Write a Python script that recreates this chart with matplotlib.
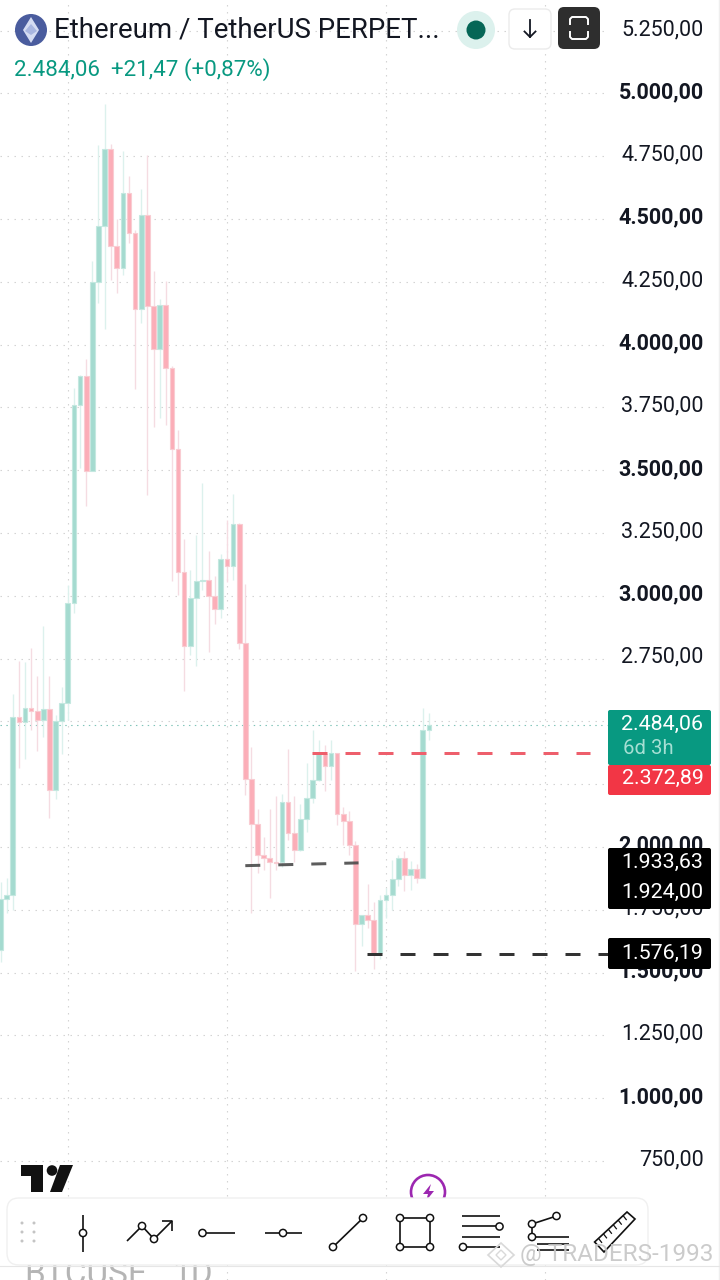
#!/usr/bin/env python
# -*- coding: utf-8 -*-
import numpy as np
import matplotlib
matplotlib.use("Agg")
import matplotlib.pyplot as plt
from matplotlib.patches import Circle, FancyBboxPatch, Polygon

plt.rcParams['font.family'] = ['Roboto', 'DejaVu Sans']

# daily candles
opens = [1590, 1792, 1808, 2517, 2497, 2552, 2540, 2507, 2548, 2228, 2501, 2572, 2970, 3759, 3874, 3496, 4248, 4471,
         4778, 4392, 4304, 4603, 4443, 4141, 4515, 4153, 3982, 4157, 3906, 3584, 3094, 2802, 2990, 3058, 3063, 3001,
         2949, 3146, 3120, 3285, 2814, 2269, 2091, 1967, 1958, 1939, 1939, 2178, 2055, 1987, 2111, 2194, 2266, 2369,
         2322, 2373, 2131, 2102, 2007, 1693, 1728, 1709, 1577, 1788, 1808, 1872, 1955, 1888, 1912, 1876, 2465]
closes = [1792, 1808, 2517, 2497, 2552, 2540, 2507, 2548, 2228, 2501, 2572, 2970, 3759, 3874, 3496, 4248, 4471, 4778,
          4392, 4304, 4603, 4443, 4141, 4515, 4153, 3982, 4157, 3906, 3584, 3094, 2802, 2990, 3058, 3063, 3001, 2949,
          3146, 3120, 3285, 2814, 2269, 2091, 1967, 1958, 1939, 1937, 2178, 2055, 1987, 2111, 2194, 2266, 2369, 2322,
          2373, 2131, 2102, 2007, 1693, 1728, 1709, 1577, 1788, 1808, 1872, 1955, 1888, 1912, 1876, 2465, 2484]
highs = [1862, 1877, 2609, 2741, 2737, 2792, 2681, 2880, 2681, 2525, 2636, 3043, 3826, 3879, 3942, 4332, 4795, 4958,
         4799, 4499, 4771, 4672, 4457, 4620, 4755, 4293, 4181, 4252, 3914, 3660, 3225, 3103, 3242, 3448, 3179, 3078,
         3165, 3302, 3406, 3289, 3047, 2398, 2150, 2040, 2150, 2202, 2210, 2389, 2202, 2170, 2334, 2465, 2425, 2405,
         2425, 2373, 2158, 2142, 2023, 1728, 1852, 1780, 1808, 1837, 1947, 1967, 1983, 1943, 1931, 2552, 2533]
lows = [1542, 1737, 1749, 2316, 2352, 2466, 2384, 2439, 2117, 2191, 2372, 2506, 2931, 3510, 3359, 3496, 4167, 4064,
        4258, 4207, 4277, 4405, 3825, 4085, 3402, 3674, 3709, 3680, 3059, 3004, 2621, 2765, 2722, 3023, 2777, 2888,
        2912, 3056, 3063, 2790, 2207, 1739, 1898, 1909, 1798, 1909, 1922, 2028, 1941, 1983, 2060, 2177, 2263, 2223,
        2267, 2088, 2008, 1968, 1507, 1606, 1677, 1516, 1553, 1719, 1749, 1845, 1826, 1829, 1857, 1876, 2425]

price_ticks = [5250, 5000, 4750, 4500, 4250, 4000, 3750, 3500, 3250, 3000, 2750, 2500, 2250, 2000, 1750, 1500, 1250,
               1000, 750]
date_grid = [11, 37, 63, 89]
last_price = 2484.06
red_level = 2372.89
low_level = 1576.19
slope_line_idx = [40, 58.5]
slope_line_price = [1926, 1937]
red_line_idx = [50.9, 96.4]
low_line_idx = [59.9, 99.2]

UP_BODY = "#a3dacf"
UP_EDGE = "#c4e8e0"
UP_WICK = "#dcf1ed"
DOWN_BODY = "#fcacb6"
DOWN_EDGE = "#f9ccd2"
DOWN_WICK = "#f5dce2"
GRID = "#d2d2d2"
TEXT = "#131722"
TEAL = "#089981"


def px_x(p):
    # pixel column to candle index
    return (p - 0.5) / 6.12


def price_label(v):
    return f"{v:,.2f}".replace(",", "#").replace(".", ",").replace("#", ".")


def draw_chart(ax):
    ax.set_xlim(px_x(0), px_x(720))
    ax.set_ylim(276.5, 5372.2)
    ax.axis("off")

    right = px_x(607)
    for p in price_ticks:
        ax.plot([px_x(0), right], [p, p], color=GRID, lw=0.8, ls=(0, (1.3, 5)), zorder=1)
        weight = "bold" if p % 500 == 0 else "normal"
        ax.text(px_x(703.5), p + 5, price_label(p), ha="right", va="center", fontsize=15.5, color=TEXT,
                fontweight=weight, zorder=2)
    for d in date_grid:
        ax.plot([d, d], [276.5, 5372.2], color=GRID, lw=0.8, ls=(0, (1.3, 5)), zorder=1)
    ax.plot([px_x(0), right], [last_price, last_price], color="#7fc4b8", lw=0.8, ls=(0, (1.3, 4)), zorder=1)

    idx = np.arange(len(opens))
    o = np.array(opens, dtype=float)
    c = np.array(closes, dtype=float)
    up = c >= o
    ax.vlines(idx[up], np.array(lows)[up], np.array(highs)[up], color=UP_WICK, lw=1.0, zorder=3)
    ax.vlines(idx[~up], np.array(lows)[~up], np.array(highs)[~up], color=DOWN_WICK, lw=1.0, zorder=3)
    ax.bar(idx[up], (c - o)[up], bottom=o[up], width=0.76, color=UP_BODY, edgecolor=UP_EDGE, lw=0.8, alpha=0.97,
           zorder=4)
    ax.bar(idx[~up], (c - o)[~up], bottom=o[~up], width=0.76, color=DOWN_BODY, edgecolor=DOWN_EDGE, lw=0.8,
           alpha=0.97, zorder=4)

    # drawn levels
    dash = (0, (5, 6))
    ax.plot(red_line_idx, [red_level, red_level], color="#ee5f6c", lw=2.16, ls=dash, dash_capstyle="butt", zorder=5)
    ax.plot(slope_line_idx, slope_line_price, color="#4a4a4a", lw=2.16, ls=dash, dash_capstyle="butt", alpha=0.9,
            zorder=5)
    ax.plot(low_line_idx, [low_level, low_level], color="#333333", lw=2.16, ls=dash, dash_capstyle="butt", zorder=5)


def box(ui, x0, y0, x1, y1, color, r=2, edge="none", z=6, lw=1):
    ui.add_patch(FancyBboxPatch((x0 + r, y0 + r), x1 - x0 - 2 * r, y1 - y0 - 2 * r,
                                boxstyle=f"round,pad={r},rounding_size={r}", fc=color, ec=edge, lw=lw, zorder=z))


def draw_header(ui):
    ui.add_patch(Circle((31, 30), 16, fc="#4a5c9e", ec="none", zorder=6))
    ui.add_patch(Polygon([(31, 17), (39, 30), (31, 43), (23, 30)], fc="#d5dcf2", ec="none", zorder=7))
    ui.add_patch(Polygon([(31, 24), (37, 31), (31, 35), (25, 31)], fc="#a9b6e0", ec="none", zorder=8))
    ui.text(54, 30, "Ethereum / TetherUS PERPET...", fontsize=19.9, color=TEXT, va="center", ha="left", zorder=6)
    ui.text(14, 70, "2.484,06", fontsize=16.1, color=TEAL, va="center", ha="left", zorder=6)
    ui.text(111, 70, "+21,47 (+0,87%)", fontsize=16.1, color=TEAL, va="center", ha="left", zorder=6)

    ui.add_patch(Circle((476, 30), 19, fc="#dcf1ed", ec="none", zorder=6))
    ui.add_patch(Circle((476, 30), 9.5, fc="#056656", ec="none", zorder=7))

    box(ui, 509, 9, 551, 49, "white", r=6, edge="#ebebeb")
    ui.plot([530, 530], [20, 37], color=TEXT, lw=1.3, zorder=7)
    ui.plot([524.5, 530, 535.5], [31.5, 37, 31.5], color=TEXT, lw=1.3, zorder=7)

    box(ui, 558, 7, 600, 49, "#2e2e2e", r=6)
    for sy in (1, -1):
        yy = 28 + sy * 11
        yy2 = 28 + sy * 4
        ui.plot([570, 570, 572, 586, 588, 588], [yy2, yy - sy * 2, yy, yy, yy - sy * 2, yy2], color="white", lw=1.4,
                zorder=7)


def draw_badges(ui):
    box(ui, 608, 710, 711, 765, TEAL, r=2)
    box(ui, 608, 765, 711, 795, "#f23645", r=2)
    box(ui, 608, 848, 711, 909, "black", r=2)
    box(ui, 608, 938, 711, 969, "black", r=2)
    ui.text(703.5, 724.5, price_label(last_price), color="white", fontsize=15.4, ha="right", va="center", zorder=7)
    ui.text(623, 749, "6d 3h", color="#a5dfd3", fontsize=14.6, ha="left", va="center", zorder=7)
    ui.text(703.5, 778.5, price_label(red_level), color="white", fontsize=15.4, ha="right", va="center", zorder=7)
    ui.text(703.5, 862.5, "1.933,63", color="white", fontsize=15.4, ha="right", va="center", zorder=7)
    ui.text(703.5, 892.5, "1.924,00", color="white", fontsize=15.4, ha="right", va="center", zorder=7)
    ui.text(703.5, 953.5, price_label(low_level), color="white", fontsize=15.4, ha="right", va="center", zorder=7)
    ui.plot([718.5, 718.5], [0, 1280], color="#efefef", lw=1.0, zorder=6)


def node(ui, x, y, r=3.6, z=12):
    ui.add_patch(Circle((x, y), r, fc="white", ec="#111111", lw=1.1, zorder=z))


def seg(ui, xs, ys, lw=1.2):
    ui.plot(xs, ys, color="#111111", lw=lw, zorder=11, solid_capstyle="butt")


def draw_toolbar(ui):
    # logo and bolt sit under the toolbar
    ui.add_patch(Polygon([(21, 1165), (43, 1165), (43, 1192), (31, 1192), (31, 1176), (21, 1176)], fc="#111111",
                         ec="none", zorder=6))
    ui.add_patch(Circle((52, 1170.5), 5.3, fc="#111111", ec="none", zorder=6))
    ui.add_patch(Polygon([(60, 1165), (73, 1165), (62, 1192), (50, 1192)], fc="#111111", ec="none", zorder=6))
    ui.add_patch(Circle((428, 1192), 17, fc="white", ec="#9c27b0", lw=1.9, zorder=6))
    ui.add_patch(Polygon([(431, 1184), (423, 1194), (428, 1194), (426, 1201), (434, 1191), (429, 1191)],
                         fc="#9c27b0", ec="none", zorder=7))

    ui.text(24, 1284, "BTCUSE", fontsize=24, color="#b5b5b5", ha="left", va="baseline", zorder=6, clip_on=True)
    ui.text(172, 1284, "1D", fontsize=24, color="#b5b5b5", ha="left", va="baseline", zorder=6, clip_on=True)
    ui.plot([0, 720], [1265.5, 1265.5], color="#e6e6e6", lw=0.8, zorder=8)

    box(ui, 7, 1198, 648, 1265, "white", r=12, edge="#f0f0f0", z=9)

    for x in (22, 34):
        for y in (1223, 1232, 1241):
            ui.add_patch(Circle((x, y), 1.5, fc="#c4c4c4", ec="none", zorder=11))

    seg(ui, [83, 83], [1215, 1252])
    node(ui, 83, 1233)

    seg(ui, [127, 142, 154, 172], [1241, 1226, 1239, 1221])
    seg(ui, [162, 172, 172], [1221, 1221, 1231])
    node(ui, 142, 1226)
    node(ui, 154, 1239)

    seg(ui, [202, 235], [1233, 1233])
    node(ui, 202.5, 1233)

    seg(ui, [265, 302], [1233, 1233])
    node(ui, 283, 1233)

    seg(ui, [333, 363], [1247, 1218])
    node(ui, 333, 1247)
    node(ui, 363, 1218)

    seg(ui, [400, 430, 430, 400, 400], [1218, 1218, 1247, 1247, 1218])
    for x, y in [(400, 1218), (430, 1218), (400, 1247), (430, 1247)]:
        node(ui, x, y)

    for y, x0 in [(1216, 462), (1226, 462), (1237, 462), (1247, 463)]:
        seg(ui, [x0, 500], [y, y])
    node(ui, 499.5, 1226.5)
    node(ui, 463, 1247)

    seg(ui, [532, 556.5], [1224, 1216])
    seg(ui, [532, 532], [1224, 1237])
    seg(ui, [532, 569], [1237, 1237])
    seg(ui, [537, 569], [1244, 1244])
    seg(ui, [537, 569], [1250, 1250])
    node(ui, 532, 1224)
    node(ui, 556.5, 1216)
    node(ui, 532, 1237)

    ui.add_patch(Polygon([(594.6, 1242), (627, 1212), (635, 1219), (604, 1252)], fc="white", ec="#111111", lw=1.2,
                         zorder=11))
    for t in np.linspace(0.12, 0.88, 6):
        ax0, ay0 = 594.6 + t * 32.4, 1242 - t * 30
        seg(ui, [ax0, ax0 + 3.5], [ay0, ay0 + 4.5], lw=0.9)

    # watermark
    ui.add_patch(Polygon([(501, 1243), (514, 1255), (501, 1267), (488, 1255)], fc="none", ec="#d9d9d9", lw=1.2,
                         zorder=13))
    ui.add_patch(Polygon([(501, 1250), (506, 1255), (501, 1260), (496, 1255)], fc="none", ec="#d9d9d9", lw=1.0,
                         zorder=13))
    ui.text(520, 1255, "@ TRADERS-1993", fontsize=17.5, color="#c6c6c6", alpha=0.9, ha="left", va="center",
            zorder=13)


if __name__ == '__main__':
    fig = plt.figure(figsize=(7.2, 12.8), dpi=100, facecolor="white")
    ax = fig.add_axes([0, 0, 1, 1])
    draw_chart(ax)

    ui = fig.add_axes([0, 0, 1, 1], zorder=5)
    ui.set_xlim(0, 720)
    ui.set_ylim(1280, 0)
    ui.axis("off")
    ui.patch.set_alpha(0)
    draw_header(ui)
    draw_badges(ui)
    draw_toolbar(ui)

    fig.savefig("out.png", dpi=100)
